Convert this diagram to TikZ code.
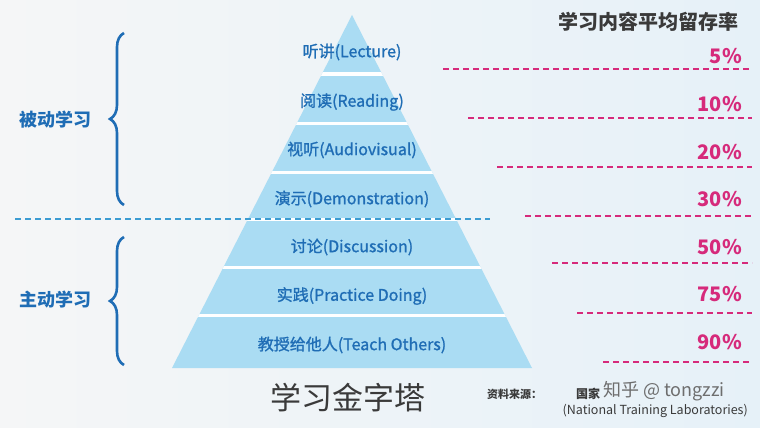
\documentclass[tikz,border=0pt]{standalone}
\usepackage{fontspec}
\setmainfont{Noto Sans CJK SC}
\newfontfamily\medfont{Noto Sans CJK SC}[FakeBold=1.2]
\usetikzlibrary{decorations.pathreplacing}
\definecolor{band}{HTML}{AADCF3}
\definecolor{lblue}{HTML}{1F6DB5}
\definecolor{mag}{HTML}{D62A7B}
\definecolor{dgray}{HTML}{3A3A3A}
\definecolor{wmgray}{HTML}{6E6E6E}
\definecolor{sepblue}{HTML}{3C9CD2}
\definecolor{bgl}{HTML}{F5F6F7}
\definecolor{bgr}{HTML}{E6F1F8}
\begin{document}
\begin{tikzpicture}[x=1pt,y=-1pt,
  lvl/.style={text=lblue,font=\fontsize{16}{18}\medfont,inner sep=0pt},
  pct/.style={text=mag,font=\fontsize{20}{22}\selectfont\bfseries,anchor=east,inner sep=0pt},
  pline/.style={mag,line width=1.2pt,dash pattern=on 6pt off 4pt},
  grp/.style={text=lblue,font=\fontsize{18}{20}\selectfont\bfseries,inner sep=0pt},
  brc/.style={lblue,line width=2.6pt,decorate,decoration={brace,amplitude=14pt}}]
\useasboundingbox (0,0) rectangle (760,428);
\shade[left color=bgl,right color=bgr] (0,0) rectangle (760,428);
% pyramid
\fill[band] (352,15) -- (532,368) -- (172,368) -- cycle;
\begin{scope}
\clip (352,15) -- (532,368) -- (172,368) -- cycle;
\foreach \yy in {74,123,172,219,267,315}{
  \draw[white,line width=3pt] (150,\yy) -- (560,\yy);
}
\end{scope}
\draw[sepblue,line width=1.3pt,dash pattern=on 6pt off 4pt] (15,219) -- (490,219);
% labels
\node[lvl] (l1) at (352,52) {听讲(Lecture)};
\node[lvl] (l2) at (352,102) {阅读(Reading)};
\node[lvl] (l3) at (352,150) {视听(Audiovisual)};
\node[lvl] (l4) at (352,199) {演示(Demonstration)};
\node[lvl] (l5) at (352,247) {讨论(Discussion)};
\node[lvl] (l6) at (352,296) {实践(Practice Doing)};
\node[lvl] (l7) at (352,345) {教授给他人(Teach Others)};
% braces
\draw[brc] (124,205) -- (124,33);
\draw[brc] (124,365) -- (124,237);
\node[grp] (g1) at (55,120) {被动学习};
\node[grp] (g2) at (55,300) {主动学习};
% right column
\node[text=dgray,font=\fontsize{20}{22}\selectfont\bfseries,inner sep=0pt] (title) at (648,22) {学习内容平均留存率};
\node[pct] (p1) at (742,56) {5\%};
\draw[pline] (443,69) -- (752,69);
\node[pct] (p2) at (742,104) {10\%};
\draw[pline] (468,118) -- (752,118);
\node[pct] (p3) at (742,152) {20\%};
\draw[pline] (497,167) -- (752,167);
\node[pct] (p4) at (742,199) {30\%};
\draw[pline] (525,216) -- (752,216);
\node[pct] (p5) at (742,247) {50\%};
\draw[pline] (552,263) -- (752,263);
\node[pct] (p6) at (742,294) {75\%};
\draw[pline] (577,313) -- (752,313);
\node[pct] (p7) at (742,342) {90\%};
\draw[pline] (603,362) -- (752,362);
% bottom
\node[text=dgray,font=\fontsize{31}{33}\selectfont,inner sep=0pt] (main) at (348,398) {学习金字塔};
\node[text=dgray,font=\fontsize{11}{13}\selectfont\bfseries,anchor=west,inner sep=0pt] (src) at (487,394) {资料来源：};
\node[text=dgray,font=\fontsize{12}{14}\selectfont\bfseries,anchor=west,inner sep=0pt] (ntl) at (576,394) {国家};
\node[text=wmgray,font=\fontsize{18}{20}\selectfont,anchor=west,inner sep=0pt] (wm) at (603,391) {知乎 @ tongzzi};
\node[text=dgray,font=\fontsize{12.5}{14}\selectfont,anchor=east,inner sep=0pt] (ntle) at (748,411) {(National Training Laboratories)};
\end{tikzpicture}
\end{document}
